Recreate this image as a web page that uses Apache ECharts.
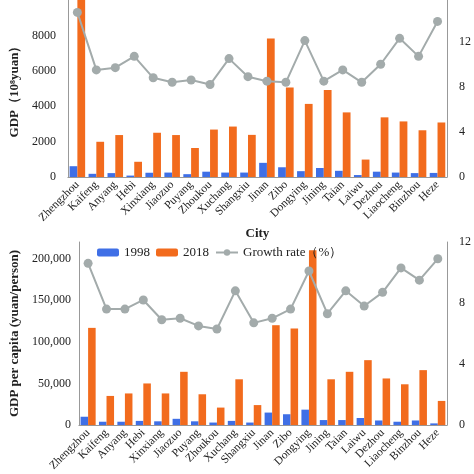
<!DOCTYPE html><html><head><meta charset="utf-8"><script src="https://cdn.jsdelivr.net/npm/echarts@6/dist/echarts.min.js"></script></head><body style="margin:0"><div id="c" style="width:474px;height:474px"></div><script>
const cities=["Zhengzhou","Kaifeng","Anyang","Hebi","Xinxiang","Jiaozuo","Puyang","Zhoukou","Xuchang","Shangxiu","Jinan","Zibo","Dongying","Jining","Taian","Laiwu","Dezhou","Liaocheng","Binzhou","Heze"];
const gdp1998=[610,180,220,80,240,250,160,300,250,250,800,550,330,510,350,110,300,250,220,230];
const gdp2018=[10143,1990,2370,860,2500,2370,1640,2680,2850,2380,7830,5060,4130,4920,3650,985,3370,3140,2640,3080];
const gdpGrowth=[14.6,9.5,9.7,10.7,8.8,8.4,8.6,8.2,10.5,8.9,8.5,8.4,12.1,8.5,9.5,8.4,10.0,12.3,10.7,13.8];
const pc1998=[10000,4000,4000,5000,4500,7500,4500,3000,5000,3000,15000,13000,18500,6000,6000,8500,5500,4000,5500,2000];
const pc2018=[116800,35000,38000,50000,38000,64000,37000,21000,55000,24000,120000,116000,210000,55000,64000,78000,56000,49000,66000,29000];
const pcGrowth=[10.6,7.6,7.6,8.2,6.9,7.0,6.5,6.3,8.8,6.7,7.0,7.6,10.1,7.3,8.8,7.8,8.7,10.3,9.5,10.9];
const F="Liberation Serif",blue="#3f6fe6",orange="#f26b1d",gray="#a3abab";
const ax={axisLine:{show:true,lineStyle:{color:"#999"}},axisTick:{show:false},splitLine:{show:false},axisLabel:{fontFamily:F,fontSize:12,color:"#222",margin:12}};
const xa=(gi)=>({type:"category",gridIndex:gi,data:cities,...ax,axisLabel:{fontFamily:F,fontSize:11.5,color:"#222",rotate:45,interval:0,margin:6}});
const c=echarts.init(document.getElementById("c"));
c.setOption({animation:false,
grid:[{left:58,right:24,top:-17,bottom:297},{left:60,right:24,top:242,bottom:28}],
legend:{top:241,left:92,itemWidth:22,itemHeight:8,itemGap:6,textStyle:{fontFamily:F,fontSize:13,color:"#222"},data:[{name:"1998"},{name:"2018"},{name:"Growth rate（%）"}]},
xAxis:[{...xa(0),name:"City",nameLocation:"middle",nameGap:50,nameTextStyle:{fontFamily:F,fontSize:13,fontWeight:"bold",color:"#222"}},xa(1)],
yAxis:[
{type:"value",gridIndex:0,min:0,max:10000,interval:2000,...ax,axisLabel:{...ax.axisLabel,showMaxLabel:false,formatter:v=>String(v)},name:"GDP（10⁸yuan）",nameLocation:"middle",nameGap:44,nameTextStyle:{fontFamily:F,fontSize:13,fontWeight:"bold",color:"#222"}},
{type:"value",gridIndex:0,min:0,max:15.7,interval:4,position:"right",...ax,axisLabel:{...ax.axisLabel,showMaxLabel:false}},
{type:"value",gridIndex:1,min:0,max:220000,interval:50000,...ax,axisLabel:{...ax.axisLabel,margin:8,showMaxLabel:false,formatter:v=>v.toLocaleString("en-US")},name:"GDP per capita (yuan/person)",nameLocation:"middle",nameGap:48,nameTextStyle:{fontFamily:F,fontSize:13,fontWeight:"bold",color:"#222"}},
{type:"value",gridIndex:1,min:0,max:12,interval:4,position:"right",...ax}],
series:[
{name:"1998",type:"bar",xAxisIndex:0,yAxisIndex:0,data:gdp1998,itemStyle:{color:blue},barGap:"0%",barCategoryGap:"18%"},
{name:"2018",type:"bar",xAxisIndex:0,yAxisIndex:0,data:gdp2018,itemStyle:{color:orange}},
{name:"Growth rate（%）",type:"line",xAxisIndex:0,yAxisIndex:1,data:gdpGrowth,symbol:"circle",symbolSize:9,itemStyle:{color:gray},lineStyle:{color:gray,width:2}},
{name:"1998",type:"bar",xAxisIndex:1,yAxisIndex:2,data:pc1998,itemStyle:{color:blue},barGap:"0%",barCategoryGap:"18%"},
{name:"2018",type:"bar",xAxisIndex:1,yAxisIndex:2,data:pc2018,itemStyle:{color:orange}},
{name:"Growth rate（%）",type:"line",xAxisIndex:1,yAxisIndex:3,data:pcGrowth,symbol:"circle",symbolSize:9,itemStyle:{color:gray},lineStyle:{color:gray,width:2}}]});
</script></body></html>
